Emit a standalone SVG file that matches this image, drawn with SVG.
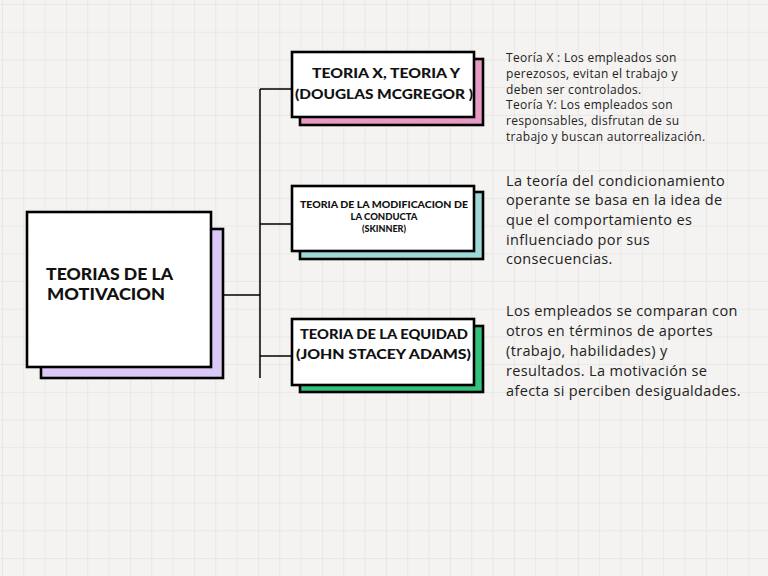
<svg xmlns="http://www.w3.org/2000/svg" width="768" height="576" viewBox="0 0 768 576">
  <defs>
    <pattern id="grid" x="2" y="4" width="21.33" height="27.7" patternUnits="userSpaceOnUse">
      <path d="M0 0 V27.7 M0 0 H21.33" fill="none" stroke="#dedddb" stroke-width="1"/>
    </pattern>
    <style>
      .card { fill: #ffffff; stroke: #000; stroke-width: 2.6; }
      .shadow { stroke: #000; stroke-width: 2.6; }
      .head { font-family: Lato, "Liberation Sans", sans-serif; font-weight: 900; fill: #111; }
      .body { font-family: "Open Sans", Lato, sans-serif; fill: #222; }
      .conn { stroke: #000; stroke-width: 1.5; fill: none; }
    </style>
  </defs>
  <rect width="768" height="576" fill="#f4f3f1"/>
  <rect width="768" height="576" fill="url(#grid)"/>

  <g id="connectors">
    <line class="conn" x1="260" y1="89" x2="260" y2="378"/>
    <line class="conn" x1="260" y1="89" x2="292" y2="89"/>
    <line class="conn" x1="260" y1="224" x2="292" y2="224"/>
    <line class="conn" x1="260" y1="356" x2="292" y2="356"/>
    <line class="conn" x1="223" y1="295" x2="260" y2="295"/>
  </g>

  <g id="main">
    <rect class="shadow" x="41" y="229" width="182" height="149" fill="#dcc8f7"/>
    <rect class="card" x="27" y="212" width="184" height="155"/>
    <text class="head" font-size="16" x="46" y="280" textLength="127" lengthAdjust="spacingAndGlyphs">TEORIAS DE LA</text>
    <text class="head" font-size="16" x="47" y="300" textLength="118" lengthAdjust="spacingAndGlyphs">MOTIVACION</text>
  </g>

  <g id="mcgregor">
    <rect class="shadow" x="300" y="59" width="183" height="66" fill="#e89ac5"/>
    <rect class="card" x="292" y="52" width="182" height="65"/>
    <text class="head" font-size="13" x="312" y="78" textLength="148" lengthAdjust="spacingAndGlyphs">TEORIA X, TEORIA Y</text>
    <text class="head" font-size="13" x="295" y="99" textLength="178" lengthAdjust="spacingAndGlyphs">(DOUGLAS MCGREGOR )</text>
  </g>

  <g id="skinner">
    <rect class="shadow" x="300" y="192" width="183" height="67" fill="#9ed8d8"/>
    <rect class="card" x="292" y="186" width="182" height="65"/>
    <text class="head" font-size="9.5" x="300" y="208" textLength="168" lengthAdjust="spacingAndGlyphs">TEORIA DE LA MODIFICACION DE</text>
    <text class="head" font-size="9.5" x="384" y="220" text-anchor="middle">LA CONDUCTA</text>
    <text class="head" font-size="9" x="384" y="232" text-anchor="middle">(SKINNER)</text>
  </g>

  <g id="adams">
    <rect class="shadow" x="300" y="326" width="183" height="66" fill="#33c27a"/>
    <rect class="card" x="292" y="319" width="182" height="66"/>
    <text class="head" font-size="13" x="300" y="339" textLength="168" lengthAdjust="spacingAndGlyphs">TEORIA DE LA EQUIDAD</text>
    <text class="head" font-size="13" x="296" y="359" textLength="175" lengthAdjust="spacingAndGlyphs">(JOHN STACEY ADAMS)</text>
  </g>

  <g id="text-xy">
    <text class="body" font-size="12" letter-spacing="0.3" x="506">
      <tspan x="506" y="62">Teoría X : Los empleados son</tspan>
      <tspan x="506" y="78">perezosos, evitan el trabajo y</tspan>
      <tspan x="506" y="93.5">deben ser controlados.</tspan>
      <tspan x="506" y="109">Teoría Y: Los empleados son</tspan>
      <tspan x="506" y="125">responsables, disfrutan de su</tspan>
      <tspan x="506" y="140.5">trabajo y buscan autorrealización.</tspan>
    </text>
  </g>

  <g id="text-skinner">
    <text class="body" font-size="14.5" letter-spacing="0.35" x="506">
      <tspan x="506" y="186">La teoría del condicionamiento</tspan>
      <tspan x="506" y="205">operante se basa en la idea de</tspan>
      <tspan x="506" y="225">que el comportamiento es</tspan>
      <tspan x="506" y="244.5">influenciado por sus</tspan>
      <tspan x="506" y="264">consecuencias.</tspan>
    </text>
  </g>

  <g id="text-adams">
    <text class="body" font-size="14.5" letter-spacing="0.35" x="506">
      <tspan x="506" y="316">Los empleados se comparan con</tspan>
      <tspan x="506" y="336">otros en términos de aportes</tspan>
      <tspan x="506" y="356">(trabajo, habilidades) y</tspan>
      <tspan x="506" y="376">resultados. La motivación se</tspan>
      <tspan x="506" y="396">afecta si perciben desigualdades.</tspan>
    </text>
  </g>
</svg>
